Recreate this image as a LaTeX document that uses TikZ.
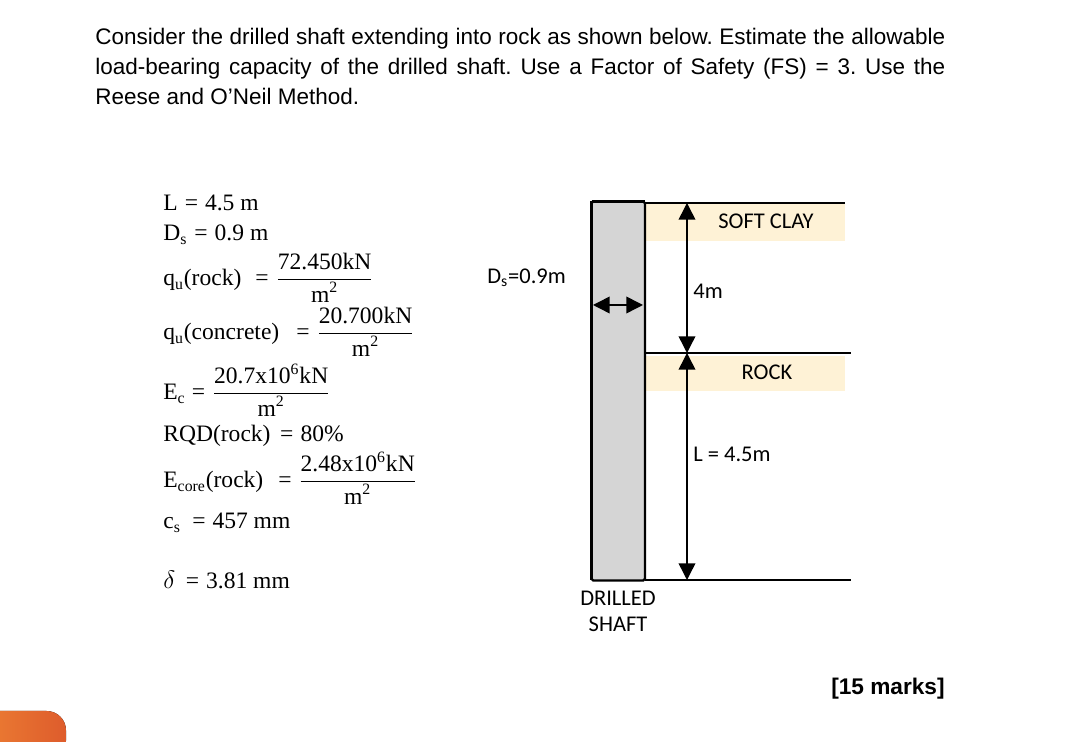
\documentclass[tikz,border=0pt]{standalone}
\usepackage{amsmath}
\usepackage{fontspec}
\setmainfont{Liberation Serif}
\newfontfamily\questionfont{Liberation Sans}
\newfontfamily\labelfont{Carlito}
\usetikzlibrary{arrows.meta}
\DeclareMathSizes{13.4}{13.4}{9}{8}
\newcommand{\eqfrac}[2]{$\genfrac{}{}{0.85pt}{1}{\mbox{\rule[-4.5pt]{0pt}{4.5pt}#1}}{\mbox{\rule{0pt}{11.5pt}#2}}$}
\newcommand{\eq}{$\;$=$\;$}
\definecolor{bandcolor}{RGB}{254,242,214}
\definecolor{shaftcolor}{RGB}{213,213,213}
\definecolor{tableft}{RGB}{238,130,52}
\definecolor{tabright}{RGB}{222,92,44}
\tikzset{
  dimarrow/.style={line width=0.85pt,{Triangle[length=9.5pt,width=9.5pt]}-{Triangle[length=9.5pt,width=9.5pt]}},
  groundline/.style={line width=0.85pt},
  question/.style={font=\questionfont\fontsize{12.8}{17}\selectfont\frenchspacing},
  drawlabel/.style={font=\labelfont\fontsize{12.8}{14}\selectfont},
  eqn/.style={anchor=base west,inner sep=0pt,font=\fontsize{13.4}{15}\selectfont},
}
\begin{document}
\begin{tikzpicture}[x=0.02cm,y=-0.02cm]
\useasboundingbox (0,0) rectangle (1080,742);
%------------------------------------------------
\node[question,anchor=north west,inner sep=0pt,text width=17cm,align=justify] (intro) at (95,28)
  {Consider the drilled shaft extending into rock as shown below. Estimate the allowable load-bearing capacity of the drilled shaft. Use a Factor of Safety (FS) = 3. Use the\linebreak Reese and O’Neil Method.};
\node[anchor=base east,inner sep=0pt,font=\questionfont\bfseries\fontsize{12.9}{15}\selectfont] (marks) at (945,695) {[15 marks]};
\fill[left color=tableft,right color=tabright,rounded corners=11pt] (-30,760) rectangle (66,711);
%------------------------------------------------
\node[eqn] (eqL) at (163,211) {L\eq 4.5 m};
\node[eqn] (eqDs) at (163,241) {D$_{\text{s}}$\eq 0.9 m};
\node[eqn] (eqqurock) at (163,286) {q$_{\text{u}}$(rock)\hspace{4pt}\eq\eqfrac{72.450kN}{m$^{\text{2}}$}};
\node[eqn] (eqquconc) at (163,340) {q$_{\text{u}}$(concrete)\hspace{5.7pt}\eq\eqfrac{20.700kN}{m$^{\text{2}}$}};
\node[eqn] (eqEc) at (163,400) {E$_{\text{c}}$\hspace{-0.5pt}\eq\eqfrac{20.7x10$^{\text{6}}$kN}{m$^{\text{2}}$}};
\node[eqn] (eqRQD) at (163,442) {RQD(rock)\hspace{1.5pt}\eq 80\%};
\node[eqn] (eqEcore) at (163,488) {E$_{\text{core}}$(rock)\hspace{4.5pt}\eq\eqfrac{2.48x10$^{\text{6}}$kN}{m$^{\text{2}}$}};
\node[eqn] (eqcs) at (163,529) {c$_{\text{s}}$\hspace{2.5pt}\eq 457 mm};
\node[eqn] (eqdelta) at (163,589) {$\delta$\hspace{2pt}\eq 3.81 mm};
%------------------------------------------------
\fill[bandcolor] (646,204) rectangle (845,241);
\fill[bandcolor] (646,356) rectangle (845,391);
\draw[fill=shaftcolor,line width=1.3pt,rounded corners=1pt] (591.5,201.5) rectangle (645,580.5);
\draw[line width=1.9pt] (591.5,201.5) -- (591.5,580.5);
\draw[line width=1.7pt] (591.5,201.5) -- (645,201.5);
\coordinate (topr) at (645,203);
\coordinate (topl) at (845,203);
\coordinate (midr) at (645,353);
\coordinate (midl) at (851,353);
\coordinate (botr) at (645,580);
\coordinate (botl) at (851,580);
\draw[groundline] (topr) -- (topl);
\draw[groundline] (midr) -- (midl);
\draw[groundline] (botr) -- (botl);
\coordinate (clayup) at (687,203);
\coordinate (claydown) at (687,353);
\coordinate (rockup) at (687,353);
\coordinate (rockdown) at (687,580);
\coordinate (dialeft) at (593,305);
\coordinate (diaright) at (643,305);
\draw[dimarrow] (clayup) -- (claydown);
\draw[dimarrow] (rockup) -- (rockdown);
\draw[dimarrow] (dialeft) -- (diaright);
\node[drawlabel] (claylabel) at (766,221) {SOFT CLAY};
\node[drawlabel] (rocklabel) at (767,372) {ROCK};
\node[drawlabel,anchor=west,inner sep=0pt] (fourm) at (693,291) {4m};
\node[drawlabel,anchor=west,inner sep=0pt] (lenlabel) at (693,454) {L = 4.5m};
\node[drawlabel,anchor=west,inner sep=0pt] (dialabel) at (487,278) {D$_{\text{s}}$=0.9m};
\node[drawlabel] (drilled) at (618,598) {DRILLED};
\node[drawlabel] (shaftlabel) at (618,624) {SHAFT};
\end{tikzpicture}
\end{document}
